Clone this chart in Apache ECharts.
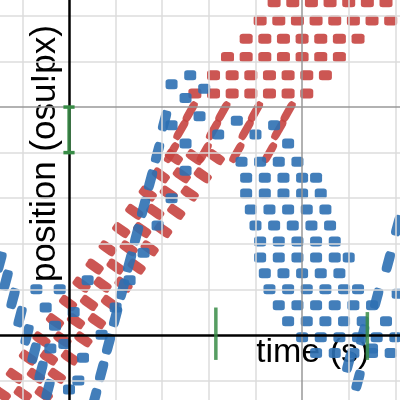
<!DOCTYPE html>
<html>
<head>
<meta charset="UTF-8">
<script src="https://cdn.jsdelivr.net/npm/echarts@6/dist/echarts.min.js"></script>
<style>
*{margin:0;padding:0}
html,body{width:100%;height:100%;overflow:hidden;background:#fff}
.container{width:400px;height:400px}
</style>
</head>
<body>
<div class="container"></div>
<script>
// red lower band (dashes)
const redLow = [
 [-1.44,-1.3],[-0.99,-1.3],[-0.54,-1.3],
 [-1.16,-0.9],[-0.71,-0.9],[-0.26,-0.9],
 [-0.88,-0.5],[-0.43,-0.5],[0.02,-0.5],
 [-0.59,-0.1],[-0.14,-0.1],[0.31,-0.1],
 [-0.3,0.3],[0.15,0.3],[0.6,0.3],
 [-0.02,0.7],[0.43,0.7],[0.88,0.7],
 [0.27,1.1],[0.72,1.1],[1.17,1.1],
 [0.55,1.5],[1.0,1.5],[1.45,1.5],
 [0.83,1.9],[1.28,1.9],[1.73,1.9],
 [1.12,2.3],[1.57,2.3],[2.02,2.3],
 [1.4,2.7],[1.85,2.7],[2.3,2.7],
 [1.69,3.1],[2.14,3.1],[2.59,3.1],
 [1.97,3.5],[2.42,3.5],[2.87,3.5],
 [2.25,3.9],[2.7,3.9],[3.15,3.9]
];
// red slanted strokes
const redStroke = [
 [2.2,4.0],[2.4,4.5],[2.6,4.9],[2.9,4.0],[3.1,4.5],[3.3,4.9],
 [3.6,4.0],[3.8,4.5],[4.0,4.9],[4.3,4.0],[4.5,4.5],[4.7,4.9]
];
// red upper band
const redHigh = [
 [2.7,5.3],[3.1,5.3],[3.5,5.3],[3.9,5.3],[4.3,5.3],[4.7,5.3],[5.1,5.3],
 [3.1,5.7],[3.5,5.7],[3.9,5.7],[4.3,5.7],[4.7,5.7],[5.1,5.7],[5.5,5.7],
 [3.4,6.1],[3.8,6.1],[4.2,6.1],[4.6,6.1],[5.0,6.1],[5.4,6.1],[5.8,6.1],
 [3.8,6.5],[4.2,6.5],[4.6,6.5],[5.0,6.5],[5.4,6.5],[5.8,6.5],[6.2,6.5],
 [4.1,6.9],[4.5,6.9],[4.9,6.9],[5.3,6.9],[5.7,6.9],[6.1,6.9],[6.5,6.9],[6.9,6.9],
 [4.4,7.3],[4.8,7.3],[5.2,7.3],[5.6,7.3],[6.0,7.3],[6.4,7.3],[6.8,7.3]
];
// blue lines and scattered dots
const blueLines = [
 [-1.48,1.6],[-1.35,1.2],[-1.2,0.8],[-1.05,0.4],[-0.9,0.0],[-0.75,-0.4],[-0.6,-0.8],[-0.45,-1.2],
 [0.55,-1.4],[0.7,-0.8],[0.85,-0.2],[1.0,0.4],[1.15,1.0],[1.3,1.6],[1.45,2.2],[1.6,2.8],
 [1.75,3.4],[1.9,4.0],[2.05,4.7],
 [6.0,-0.6],[6.3,0.0],[6.6,0.8],[6.85,1.6],[7.05,2.4],[6.2,-1.0]
];
const blueDots = [
 [-0.7,1.0],[-0.5,0.6],[-0.3,0.2],[-0.1,-0.2],[0.1,0.5],[-0.2,1.0],[0.3,-0.5],[0.2,-1.0],
 [0.0,-1.2],[0.4,1.2],[-0.4,-0.3],
 [1.3,1.2],[1.6,1.8],[1.9,2.4],[2.2,3.0],[2.5,3.6],[1.0,0.6],[0.7,0.0],
 [2.2,5.5],[2.6,5.7],[2.9,5.4],[2.5,5.2],
 [2.2,4.6],[2.5,4.2],[2.8,4.8],[3.2,4.4],[3.6,4.7],[4.0,4.4],[4.4,4.6],[4.7,4.2],
 [3.7,3.8],[4.1,3.8],[4.5,3.8],[4.9,3.8],
 [3.8,3.45],[4.2,3.45],[4.6,3.45],[5.0,3.45],[5.3,3.45],
 [3.8,3.1],[4.2,3.1],[4.6,3.1],[5.0,3.1],[5.4,3.1],
 [3.9,2.75],[4.3,2.75],[4.7,2.75],[5.1,2.75],[5.5,2.75],
 [4.0,2.4],[4.4,2.4],[4.8,2.4],[5.2,2.4],[5.6,2.4],
 [4.1,2.05],[4.5,2.05],[4.9,2.05],[5.3,2.05],[5.7,2.05],
 [4.1,1.7],[4.5,1.7],[4.9,1.7],[5.3,1.7],[5.7,1.7],[6.0,1.7],
 [4.2,1.35],[4.6,1.35],[5.0,1.35],[5.4,1.35],[5.8,1.35],
 [4.3,1.0],[4.7,1.0],[5.1,1.0],[5.5,1.0],[5.9,1.0],[6.2,1.0],
 [4.5,0.65],[4.9,0.65],[5.3,0.65],[5.7,0.65],[6.1,0.65],[6.5,0.65],
 [4.7,0.3],[5.1,0.3],[5.5,0.3],[5.9,0.3],[6.3,0.3],
 [5.0,-0.05],[5.4,-0.05],[5.8,-0.05],[6.2,-0.05],[6.6,-0.05],[7.0,-0.05],
 [5.3,-0.4],[5.7,-0.4],[6.1,-0.4],[6.5,-0.4],[6.9,-0.4],
 [6.5,-0.3],[6.8,0.3],[7.05,0.9]
];
// green error bars [x, yLow, yHigh]
const greenBars = [[0,4.0,5.0],[3.15,-0.55,0.6],[6.4,-0.55,0.5]];
// grid lines
const gridX = [-1,1,2,3,4,6,7];
const gridY = [-1,1,2,3,4,6,7];

const red = '#c74440', blue = '#2d70b3', green = '#388c46';
let chart = echarts.init(document.querySelector('.container'));
let series = [
  {type:'line', data:[], markLine:{silent:true, symbol:'none', label:{show:false},
    lineStyle:{color:'#ddd',type:'solid',width:1.5},
    data:gridX.map(v=>({xAxis:v})).concat(gridY.map(v=>({yAxis:v})))}},
  {type:'line', data:[], markLine:{silent:true, symbol:'none', label:{show:false},
    lineStyle:{color:'#999',type:'solid',width:1.5}, data:[{xAxis:5},{yAxis:5}]}},
  {type:'line', data:[], markLine:{silent:true, symbol:'none', label:{show:false},
    lineStyle:{color:'#000',type:'solid',width:2.5}, data:[{xAxis:0},{yAxis:0}]}},
  {type:'scatter', data:redLow, symbol:'roundRect', symbolSize:[18,10], symbolRotate:-35, itemStyle:{color:red,opacity:0.9}},
  {type:'scatter', data:redStroke, symbol:'roundRect', symbolSize:[22,8], symbolRotate:60, itemStyle:{color:red,opacity:0.9}},
  {type:'scatter', data:redHigh, symbol:'roundRect', symbolSize:[13,10], itemStyle:{color:red,opacity:0.9}},
  {type:'scatter', data:blueLines, symbol:'roundRect', symbolSize:[10,21], symbolRotate:-15, itemStyle:{color:blue,opacity:0.9}},
  {type:'scatter', data:blueDots, symbol:'roundRect', symbolSize:[12,10], itemStyle:{color:blue,opacity:0.9}}
];
greenBars.forEach(b => {
  series.push({type:'line', z:5, data:[[b[0],b[1]],[b[0],b[2]]], symbol:'none', lineStyle:{color:green,width:3.5,opacity:0.85}});
});
series.push({type:'line', z:5, data:[[-0.12,5.0],[0.12,5.0]], symbol:'none', lineStyle:{color:green,width:3.5}});
series.push({type:'line', z:5, data:[[-0.12,4.0],[0.12,4.0]], symbol:'none', lineStyle:{color:green,width:3.5}});

chart.setOption({
  animation:false,
  grid:{left:0, right:0, top:0, bottom:0},
  xAxis:{type:'value', min:-1.48, max:7.1, axisLine:{show:false}, axisTick:{show:false},
    axisLabel:{show:false}, splitLine:{show:false}},
  yAxis:{type:'value', min:-1.43, max:7.35, axisLine:{show:false}, axisTick:{show:false},
    axisLabel:{show:false}, splitLine:{show:false}},
  series:series,
  graphic:[
    {type:'text', x:28, y:282, rotation:Math.PI/2, style:{text:'position (osu!px)', font:'35px "Liberation Sans"', fill:'#000'}},
    {type:'text', x:256, y:336, style:{text:'time (s)', font:'34px "Liberation Sans"', fill:'#000'}}
  ]
});
</script>
</body>
</html>
